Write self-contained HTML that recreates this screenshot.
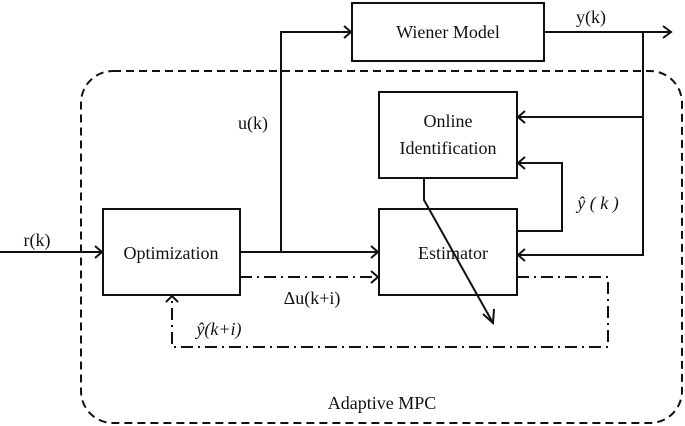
<!DOCTYPE html>
<html><head><meta charset="utf-8"><style>
html,body{margin:0;padding:0;background:#fff}
svg{display:block}
text{font-family:"Liberation Serif",serif;font-size:18px;fill:#111}
</style></head><body>
<svg width="685" height="426" viewBox="0 0 685 426" xmlns="http://www.w3.org/2000/svg">
<g fill="none" stroke="#111" stroke-width="2">
<rect x="81" y="71" width="601" height="352" rx="32" stroke-dasharray="8,5"/>
<rect x="352" y="3" width="192" height="58"/>
<rect x="379" y="92" width="138" height="86"/>
<rect x="379" y="209" width="138" height="86"/>
<rect x="103" y="209" width="137" height="86"/>
<!-- r(k) -->
<path d="M0 252H102"/>
<path d="M95 246L102 252L95 258"/>
<!-- opt to estimator -->
<path d="M240 252H378"/>
<path d="M371 246L378 252L371 258"/>
<!-- u(k) -->
<path d="M281 252V32H351"/>
<path d="M344 26L351 32L344 38"/>
<!-- y(k) -->
<path d="M544 32H670"/>
<path d="M663 26L671 32L663 38"/>
<path d="M643 32V255H518"/>
<path d="M643 117H518"/>
<path d="M525 111L518 117L525 123"/>
<path d="M525 249L518 255L525 261"/>
<!-- feedback yhat(k) -->
<path d="M517 231H562V163H518"/>
<path d="M525 157L518 163L525 169"/>
<!-- online out diag -->
<path d="M424 178V200L493 323"/>
<path d="M483 314L493 323L494 309"/>
<!-- dash-dot -->
<g stroke-dasharray="12,5,2,5">
<path d="M240 277H377"/>
<path d="M517 277H608V347H172V298"/>
</g>
<path d="M371 271L378 277L371 283"/>
<path d="M166 302L172 296L178 302"/>
</g>
<text x="448" y="38" text-anchor="middle">Wiener Model</text>
<text x="591" y="23" text-anchor="middle">y(k)</text>
<text x="448" y="127" text-anchor="middle">Online</text>
<text x="448" y="154" text-anchor="middle">Identification</text>
<text x="453" y="259" text-anchor="middle">Estimator</text>
<text x="171" y="259" text-anchor="middle">Optimization</text>
<text x="253" y="129" text-anchor="middle">u(k)</text>
<text x="37" y="246" text-anchor="middle">r(k)</text>
<text x="312" y="304" text-anchor="middle">Δu(k+i)</text>
<text x="598" y="209" text-anchor="middle" font-style="italic">ŷ ( k )</text>
<text x="219" y="335" text-anchor="middle" font-style="italic">ŷ(k+i)</text>
<text x="382" y="409" text-anchor="middle">Adaptive MPC</text>
</svg>
</body></html>
